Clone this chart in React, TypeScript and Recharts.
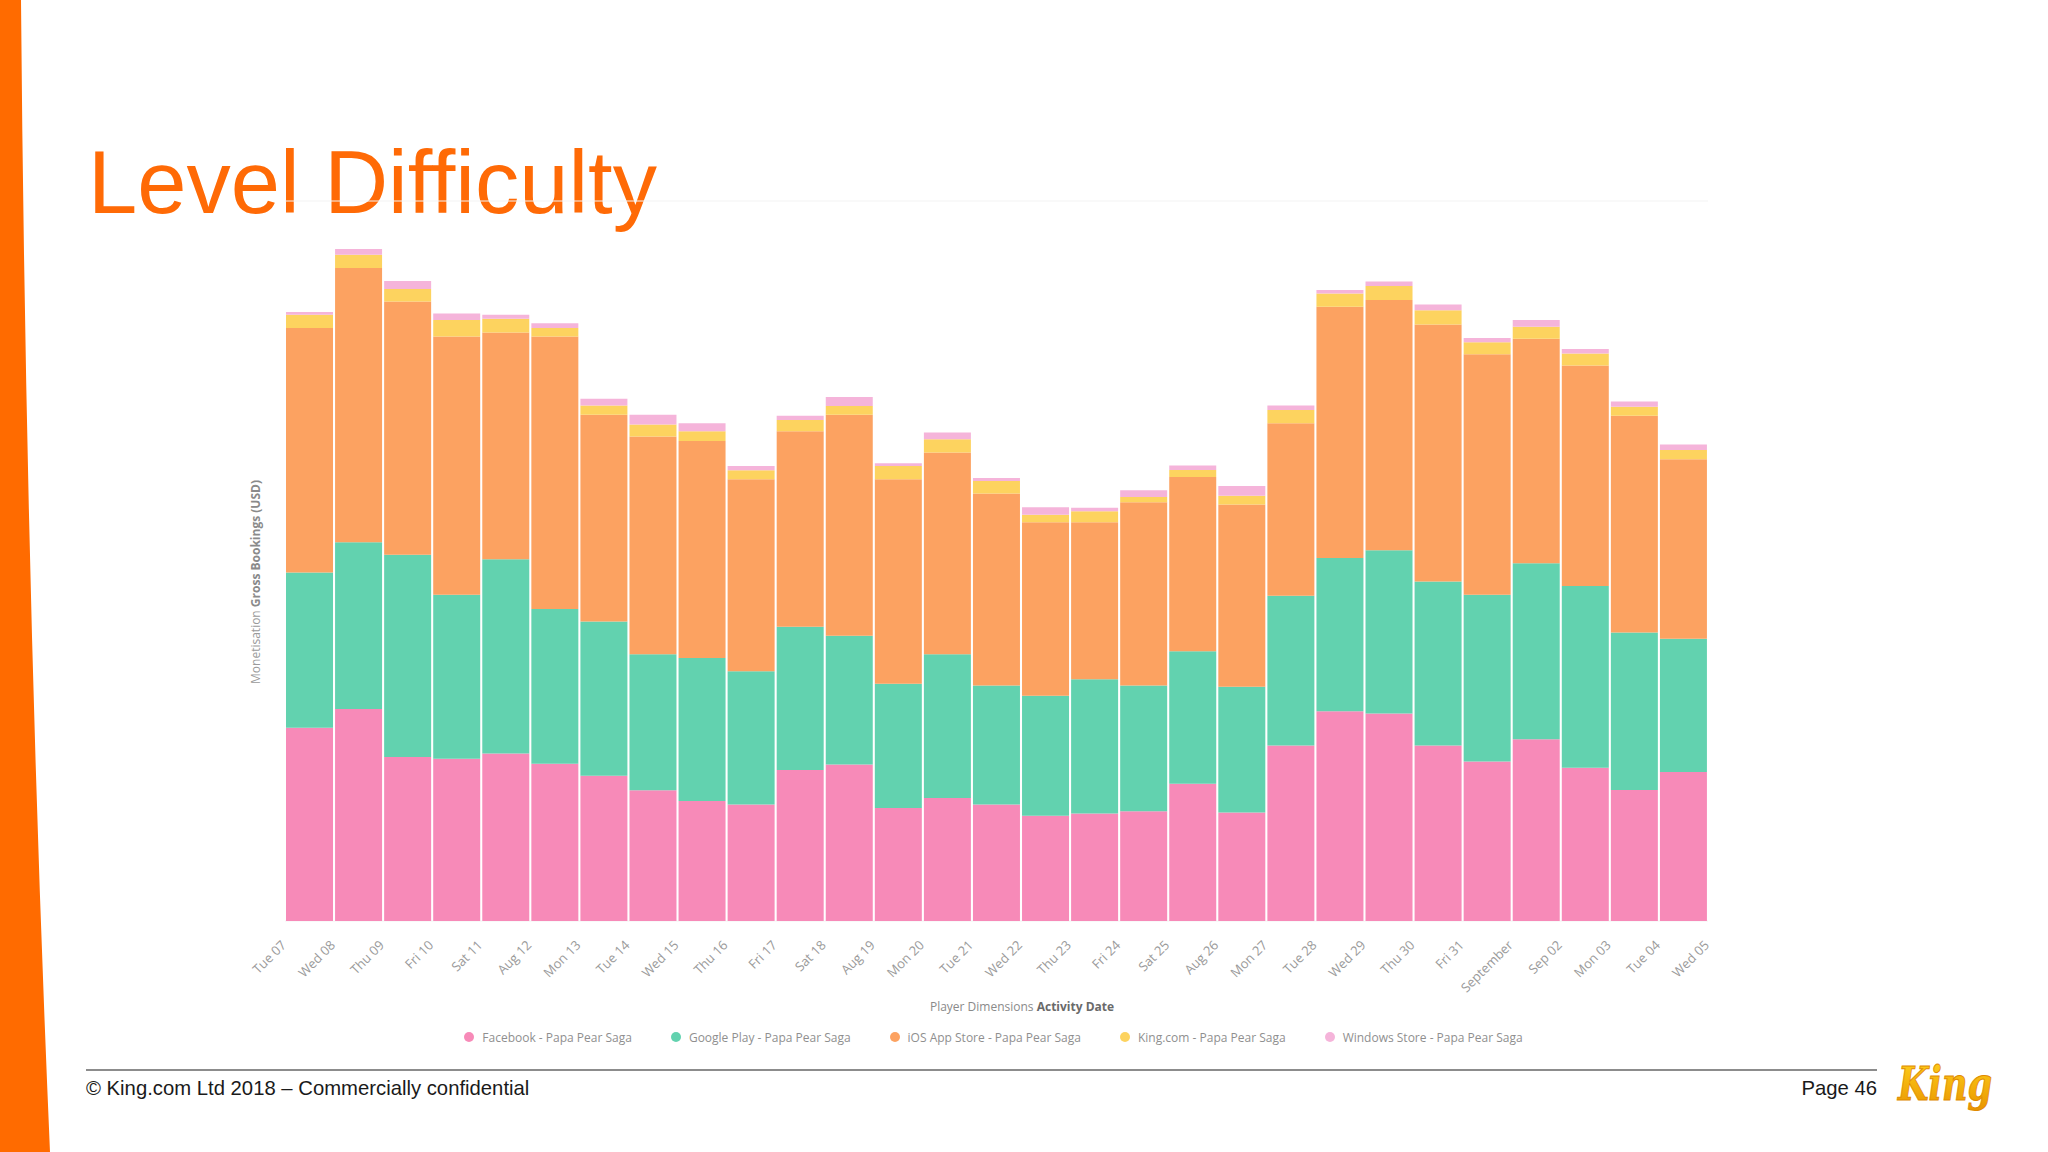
import React from 'react';
import { BarChart, Bar, XAxis, YAxis, CartesianGrid, Legend } from 'recharts';

const dateLabels = ['Tue 07', 'Wed 08', 'Thu 09', 'Fri 10', 'Sat 11', 'Aug 12', 'Mon 13', 'Tue 14', 'Wed 15', 'Thu 16', 'Fri 17', 'Sat 18', 'Aug 19', 'Mon 20', 'Tue 21', 'Wed 22', 'Thu 23', 'Fri 24', 'Sat 25', 'Aug 26', 'Mon 27', 'Tue 28', 'Wed 29', 'Thu 30', 'Fri 31', 'September', 'Sep 02', 'Mon 03', 'Tue 04', 'Wed 05'];

const facebook = [435, 477, 369, 365, 377, 354, 327, 294, 270, 262, 340, 352, 254, 277, 262, 237, 242, 247, 309, 244, 395, 472, 467, 395, 359, 409, 345, 295, 335];
const googlePlay = [349, 375, 455, 369, 437, 348, 347, 306, 322, 300, 322, 290, 280, 323, 268, 270, 302, 283, 298, 283, 337, 345, 367, 369, 375, 396, 409, 354, 300];
const iosAppStore = [550, 617, 570, 581, 510, 613, 465, 490, 488, 432, 440, 497, 460, 454, 432, 390, 353, 412, 392, 410, 388, 565, 563, 578, 541, 505, 496, 488, 404];
const kingCom = [30, 30, 28, 37, 31, 19, 21, 27, 22, 20, 25, 20, 30, 30, 28, 17, 25, 12, 16, 20, 30, 30, 32, 32, 27, 27, 27, 20, 21];
const windowsStore = [6, 13, 18, 15, 9, 11, 15, 22, 18, 10, 10, 20, 6, 15, 7, 17, 8, 15, 10, 22, 10, 8, 10, 13, 10, 15, 10, 12, 12];

const seriesKeys = ['facebook', 'googlePlay', 'iosAppStore', 'kingCom', 'windowsStore'];
const seriesNames = ['Facebook - Papa Pear Saga', 'Google Play - Papa Pear Saga', 'iOS App Store - Papa Pear Saga', 'King.com - Papa Pear Saga', 'Windows Store - Papa Pear Saga'];
const seriesColors = ['#F78AB8', '#62D2AF', '#FCA261', '#FDD35F', '#F5B4DA'];

const yTicks = [0, 90, 180, 270, 360, 450, 540, 630, 720, 810, 900, 990, 1080, 1170, 1260, 1350, 1440, 1530, 1620];

const data = facebook.map((v, i) => ({
  pos: i + 0.5,
  facebook: v,
  googlePlay: googlePlay[i],
  iosAppStore: iosAppStore[i],
  kingCom: kingCom[i],
  windowsStore: windowsStore[i],
}));
const tickPositions = dateLabels.map((_, i) => i);

const FONT = "'Open Sans', 'DejaVu Sans', sans-serif";

const DateTick = (props: any) => {
  const { x, y, payload } = props;
  return (
    <g transform={`translate(${x + 2},${y + 17})`}>
      <text x={0} y={0} textAnchor="end" transform="rotate(-45)" fill="#9a9a9a" fontSize={13} fontFamily={FONT}>
        {dateLabels[payload.value]}
      </text>
    </g>
  );
};

const XTitle = () => (
  <text x={1022} y={1011} textAnchor="middle" fontSize={12} fontFamily={FONT} fill="#8a8a8a">
    Player Dimensions <tspan fontWeight="bold" fill="#6a6a6a">Activity Date</tspan>
  </text>
);

const YTitle = () => (
  <text x={0} y={0} transform="translate(260,582) rotate(-90)" textAnchor="middle" fontSize={12} fontFamily={FONT} fill="#9a9a9a">
    Monetisation <tspan fontWeight="bold" fill="#8a8a8a">Gross Bookings (USD)</tspan>
  </text>
);

const LegendContent = () => (
  <div style={{ display: 'flex', justifyContent: 'center', alignItems: 'center', height: 24, gap: 39, paddingLeft: 54, boxSizing: 'border-box', fontFamily: FONT, fontSize: 12, color: '#8f8f8f', whiteSpace: 'nowrap' }}>
    {seriesNames.map((n, i) => (
      <div key={n} style={{ display: 'flex', alignItems: 'center', gap: 8 }}>
        <span style={{ display: 'inline-block', width: 10, height: 10, borderRadius: 5, background: seriesColors[i] }} />
        <span>{n}</span>
      </div>
    ))}
  </div>
);

export default function App() {
  return (
    <div style={{ position: 'absolute', left: 0, top: 0, width: 2048, height: 1152, background: '#ffffff', overflow: 'hidden' }}>
      <svg width={2048} height={1152} style={{ position: 'absolute', left: 0, top: 0 }}>
        <defs>
          <linearGradient id="kingGrad" x1="0" y1="0" x2="0" y2="1">
            <stop offset="0%" stopColor="#FFD21C" />
            <stop offset="100%" stopColor="#E99400" />
          </linearGradient>
        </defs>
        <path d="M0,0 L21,0 Q26,600 50,1152 L0,1152 Z" fill="#FF6B00" />
        <text x={88} y={213} fontSize={88.5} fontFamily="'Liberation Sans', Arial, sans-serif" fill="#FF6A06">Level Difficulty</text>
        <line x1={86} x2={1877} y1={1070} y2={1070} stroke="#8c8c8c" strokeWidth={2} />
        <text x={86} y={1095} fontSize={20.3} fontFamily="'Liberation Sans', Arial, sans-serif" fill="#1a1a1a">© King.com Ltd 2018 – Commercially confidential</text>
        <text x={1877} y={1095} textAnchor="end" fontSize={20.3} fontFamily="'Liberation Sans', Arial, sans-serif" fill="#1a1a1a">Page 46</text>
        <text x={1898} y={1100} fontSize={46} fontStyle="italic" fontWeight="bold" fontFamily="'DejaVu Serif', serif" fill="url(#kingGrad)" stroke="#E08A00" strokeWidth={1} textLength={94} lengthAdjust="spacingAndGlyphs">King</text>
      </svg>
      <div style={{ position: 'absolute', left: 0, top: 0 }}>
        <BarChart width={2048} height={1152} data={data} margin={{ top: 201, right: 340, bottom: 103, left: 225 }} barGap={0}>
          <CartesianGrid vertical={false} stroke="#f3f3f3" />
          <XAxis
            type="number"
            dataKey="pos"
            domain={[0, 29]}
            ticks={tickPositions}
            interval={0}
            tickLine={false}
            axisLine={false}
            tick={(p: any) => <DateTick {...p} />}
            height={104}
            label={{ content: XTitle }}
            allowDataOverflow
          />
          <YAxis
            type="number"
            domain={[0, 1620]}
            ticks={yTicks}
            tick={false}
            tickLine={false}
            axisLine={false}
            width={60}
            label={{ content: YTitle }}
          />
          <Legend verticalAlign="bottom" content={LegendContent} />
          {seriesKeys.map((k, i) => (
            <Bar key={k} dataKey={k} name={seriesNames[i]} stackId="a" fill={seriesColors[i]} barSize={47} isAnimationActive={false} />
          ))}
        </BarChart>
      </div>
    </div>
  );
}
